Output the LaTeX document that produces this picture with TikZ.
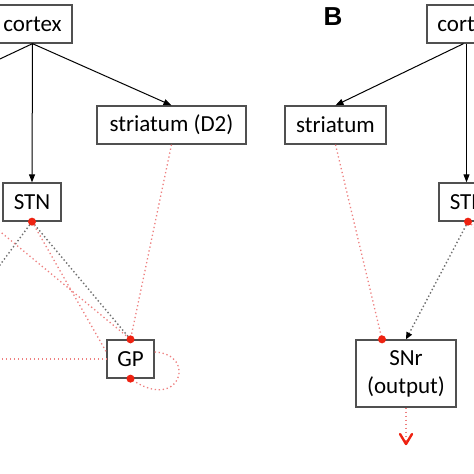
\documentclass[tikz,border=0pt]{standalone}
\usepackage{fontspec}
\setmainfont{Carlito}
\newfontfamily\bfsans{Liberation Sans}
\usetikzlibrary{arrows.meta}
\definecolor{boxc}{HTML}{505050}
\definecolor{dotgrey}{HTML}{707070}
\definecolor{dotred}{HTML}{EE8080}
\definecolor{dotfill}{HTML}{EE2211}
\begin{document}
\begin{tikzpicture}[x=1pt,y=-1pt,
 box/.style={draw=boxc,line width=1.3pt,rectangle,inner sep=0pt,font=\fontsize{23}{28}\selectfont,align=center},
 solidarrow/.style={draw=black,line width=1pt,-{Triangle[length=8pt,width=6pt]}},
 greydot/.style={draw=dotgrey,line width=1.4pt,dash pattern=on 1.4pt off 2.4pt},
 reddot/.style={draw=dotred,line width=1.3pt,dash pattern=on 1.3pt off 2.7pt},
 vtip/.style={draw=dotfill,line width=2.4pt,line cap=round,line join=round},
 inhib/.style={circle,fill=dotfill,inner sep=0pt,minimum size=8pt}]
\useasboundingbox (0,0) rectangle (474,474);
\fill[white] (0,0) rectangle (474,474);
% panel A
\node[box,minimum width=79pt,minimum height=38pt] (cortexA) at (32.5,24) {cortex};
\node[box,minimum width=149pt,minimum height=38pt] (striD2) at (171.5,125) {striatum (D2)};
\node[box,minimum width=58pt,minimum height=38pt] (stnA) at (32,202) {STN};
\node[box,minimum width=47pt,minimum height=38pt] (gp) at (130.5,359) {GP};
% panel B
\node[font=\bfsans\bfseries\fontsize{26}{30}\selectfont,inner sep=0pt] (labB) at (333,17) {B};
\node[box,minimum width=79pt,minimum height=38pt] (cortexB) at (466.5,24) {cortex};
\node[box,minimum width=101pt,minimum height=38pt] (striB) at (335.5,125) {striatum};
\node[box,minimum width=58pt,minimum height=38pt] (stnB) at (468,202) {STN};
\node[box,minimum width=100pt,minimum height=67pt] (snr) at (406,373.5) {SNr\\(output)};
% free ends
\coordinate (d1) at (-100,106);
\coordinate (lred) at (-26,210);
\coordinate (lgrey) at (-20,292);
\coordinate (lhor) at (-10,359);
\coordinate (sout) at (406,444);
\coordinate (rtail) at (490,240);
% solid arrows
\draw[solidarrow] (cortexA.south) -- (d1);
\draw[solidarrow] (cortexA.south) -- (stnA.north);
\draw[solidarrow] (cortexA.south) -- (striD2.north);
\draw[solidarrow] ([xshift=-3pt]cortexB.south) -- (striB.north);
\draw[solidarrow] (cortexB.south) -- (cortexB.south |- stnB.north);
% dotted connections A
\draw[greydot] (stnA.south) -- (gp.north);
\draw[greydot] (stnA.south) -- (lgrey);
\draw[reddot] (lred) -- (gp.north);
\draw[reddot] (stnA.south) -- ([yshift=7pt]gp.west);
\draw[reddot] (lhor) -- (gp.west);
\draw[reddot] (striD2.south) -- (gp.north);
\draw[reddot] ([yshift=7pt]gp.east) .. controls (198,354) and (180,414) .. (gp.south);
% dotted connections B
\draw[reddot] (striB.south) -- ([xshift=-24pt]snr.north);
\draw[greydot,-{Triangle[length=7pt,width=6pt,black]}] (stnB.south) -- (snr.north);
\draw[reddot] (snr.south) -- (sout);
\draw[vtip] ([xshift=-6pt,yshift=10pt]sout) -- (sout) -- ([xshift=6pt,yshift=10pt]sout);
\draw[reddot] (stnB.south) -- (rtail);
% inhibitory dots
\node[inhib] (i1) at (stnA.south) {};
\node[inhib] (i2) at (gp.north) {};
\node[inhib] (i3) at (gp.south) {};
\node[inhib] (i4) at ([xshift=-24pt]snr.north) {};
\node[inhib] (i5) at (stnB.south) {};
\end{tikzpicture}
\end{document}
